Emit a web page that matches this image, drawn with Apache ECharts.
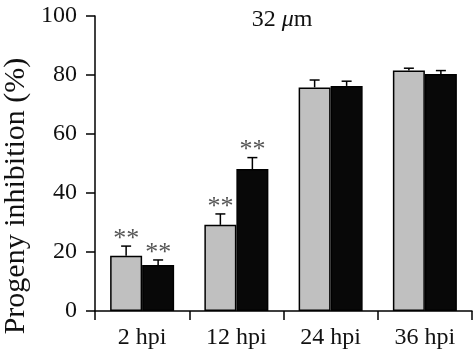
<!DOCTYPE html>
<html><head><meta charset="utf-8">
<script src="https://cdn.jsdelivr.net/npm/echarts@6/dist/echarts.min.js"></script>
<style>html,body{margin:0;padding:0;background:#fff}#c{width:474px;height:363px}</style>
</head><body><div id="c"></div>
<script>
const categories = ['2 hpi', '12 hpi', '24 hpi', '36 hpi'];
const grayValues = [18.7, 29.2, 75.8, 81.5];
const grayErr = [3.3, 3.7, 2.5, 0.8];
const grayStars = ['**', '**', '', ''];
const blackValues = [15.6, 48.1, 76.3, 80.3];
const blackErr = [1.7, 3.9, 1.6, 1.2];
const blackStars = ['**', '**', '', ''];
const yTicks = [0, 20, 40, 60, 80, 100];
const yAxisName = 'Progeny inhibition (%)';

const FONT = 'Liberation Serif';
const chart = echarts.init(document.getElementById('c'));

function errSeries(vals, errs, stars, idx) {
  return {
    type: 'custom',
    z: 5,
    data: vals.map((v, i) => [i, v, v + errs[i]]),
    renderItem: function (params, api) {
      const i = api.value(0);
      const base = api.coord([i, api.value(1)]);
      const top = api.coord([i, api.value(2)]);
      const bw = 32;
      const x = base[0] + (idx === 0 ? -bw / 2 : bw / 2);
      const cap = 5;
      const children = [
        {type: 'line', shape: {x1: x, y1: base[1], x2: x, y2: top[1]}, style: {stroke: '#000', lineWidth: 1.5}},
        {type: 'line', shape: {x1: x - cap, y1: top[1], x2: x + cap, y2: top[1]}, style: {stroke: '#000', lineWidth: 1.5}}
      ];
      const s = stars[i];
      if (s) {
        children.push({type: 'text', x: x, y: top[1] - 7, style: {text: s, fill: '#555', font: '26px "' + FONT + '"', align: 'center', verticalAlign: 'middle'}});
      }
      return {type: 'group', children: children};
    }
  };
}

chart.setOption({
  animation: false,
  title: {
    text: '32 {i|μ}m', left: 277, top: 3, textAlign: 'center',
    textStyle: {fontFamily: FONT, fontSize: 24, fontWeight: 'normal', color: '#111',
      rich: {i: {fontFamily: FONT, fontSize: 24, fontStyle: 'italic', color: '#111'}}}
  },
  graphic: [{
    type: 'text', x: 16, y: 196, rotation: Math.PI / 2,
    style: {text: yAxisName, font: '30px "' + FONT + '"', fill: '#111', align: 'center', verticalAlign: 'middle'}
  }],
  grid: {left: 95, right: 2, top: 16, bottom: 52, containLabel: false, outerBoundsMode: 'none'},
  xAxis: {
    type: 'category', data: categories,
    axisLine: {lineStyle: {color: '#000', width: 1.5}},
    axisTick: {show: true, length: 9, lineStyle: {color: '#000', width: 1.5}},
    axisLabel: {fontFamily: FONT, fontSize: 24, color: '#111', margin: 15}
  },
  yAxis: {
    type: 'value', min: yTicks[0], max: yTicks[yTicks.length - 1], interval: 20,
    axisLine: {show: true, lineStyle: {color: '#000', width: 1.5}},
    axisTick: {show: true, length: 9, lineStyle: {color: '#000', width: 1.5}},
    axisLabel: {fontFamily: FONT, fontSize: 24, color: '#111', margin: 18},
    splitLine: {show: false}
  },
  series: [
    {type: 'bar', data: grayValues, barWidth: 32, barGap: '0%',
      itemStyle: {color: '#c0c0c0', borderColor: '#000', borderWidth: 1.5}},
    {type: 'bar', data: blackValues, barWidth: 32, barGap: '0%',
      itemStyle: {color: '#080808', borderColor: '#000', borderWidth: 1.5}},
    errSeries(grayValues, grayErr, grayStars, 0),
    errSeries(blackValues, blackErr, blackStars, 1)
  ]
});
</script></body></html>
